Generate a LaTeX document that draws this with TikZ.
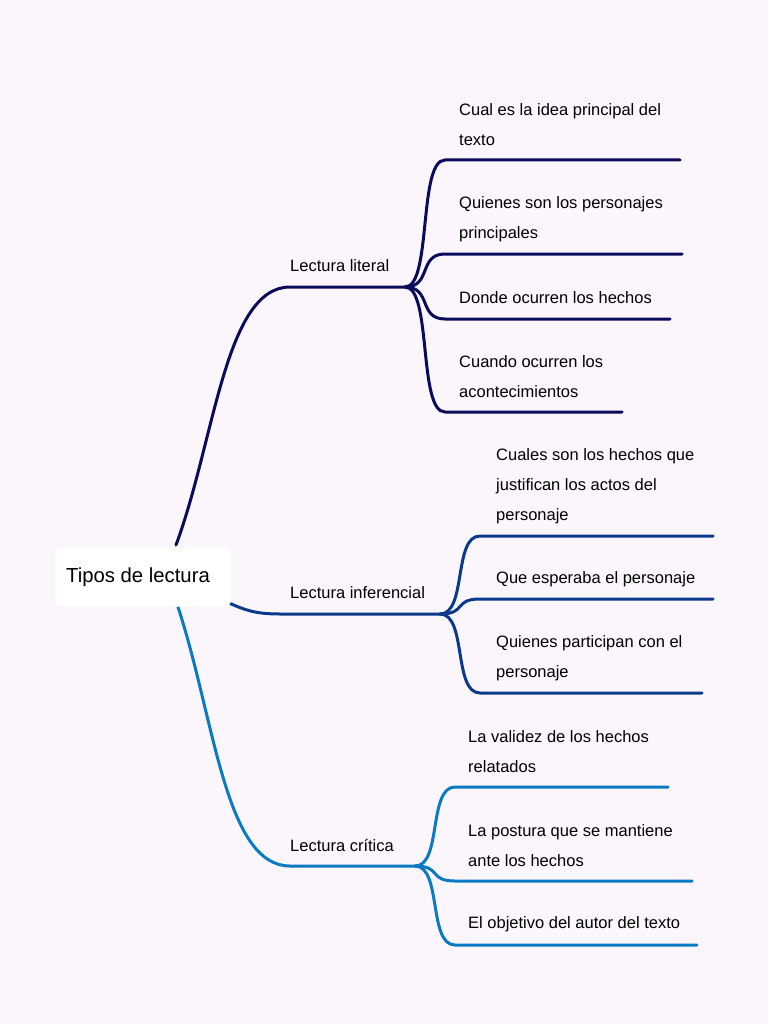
\documentclass[tikz,border=0pt]{standalone}
\usepackage{fontspec}
\setmainfont{Liberation Sans}
\definecolor{bg}{HTML}{FBF5FC}
\definecolor{cA}{HTML}{0B0B5C}
\definecolor{cB}{HTML}{0C3A8A}
\definecolor{cC}{HTML}{0A7BC2}
\tikzset{lbl/.style={anchor=west,font=\fontsize{16.5}{30}\selectfont,align=left,inner sep=0pt},
 br/.style={line width=3pt,line cap=round}}
\begin{document}
\begin{tikzpicture}[x=1pt,y=-1pt]
\fill[bg] (0,0) rectangle (768,1024);
\useasboundingbox (0,0) rectangle (768,1024);
% coordinates
\coordinate (r1) at (176,545); \coordinate (h1) at (290,287); \coordinate (j1) at (405,287);
\coordinate (r2) at (229,603); \coordinate (h2) at (280,614); \coordinate (j2) at (440,614);
\coordinate (r3) at (178,607); \coordinate (h3) at (290,866); \coordinate (j3) at (415,866);
% branch 1
\draw[br,cA] (r1) .. controls (215,440) and (225,287) .. (h1) -- (j1);
\foreach \y/\e in {160/680,254/682,319/670,412/622}
  \draw[br,cA] (j1) .. controls (432,287) and (418,\y) .. (445,\y) -- (\e,\y);
% branch 2
\draw[br,cB] (r2) .. controls (245,610) and (255,614) .. (h2) -- (j2);
\foreach \y/\e in {536/713,599/713,693/702}
  \draw[br,cB] (j2) .. controls (467,614) and (453,\y) .. (480,\y) -- (\e,\y);
% branch 3
\draw[br,cC] (r3) .. controls (215,720) and (225,866) .. (h3) -- (j3);
\foreach \y/\e in {787/668,881/692,945/697}
  \draw[br,cC] (j3) .. controls (442,866) and (428,\y) .. (455,\y) -- (\e,\y);
% root
\node[fill=white,rounded corners=6pt,minimum width=176pt,minimum height=59pt,font=\fontsize{20.3}{24}\selectfont] (root) at (143,577) {\hspace*{-10pt}Tipos de lectura};
% labels
\node[lbl] (l1) at (290,266) {Lectura literal};
\node[lbl] (l2) at (290,593) {Lectura inferencial};
\node[lbl] (l3) at (290,845) {Lectura crítica};
\node[lbl] (a1) at (459,125) {Cual es la idea principal del\\texto};
\node[lbl] (a2) at (459,219) {Quienes son los personajes\\principales};
\node[lbl] (a3) at (459,298) {Donde ocurren los hechos};
\node[lbl] (a4) at (459,377) {Cuando ocurren los\\acontecimientos};
\node[lbl] (b1) at (496,486) {Cuales son los hechos que\\justifican los actos del\\personaje};
\node[lbl] (b2) at (496,579) {Que esperaba el personaje};
\node[lbl] (b3) at (496,658) {Quienes participan con el\\personaje};
\node[lbl] (c1) at (468,752) {La validez de los hechos\\relatados};
\node[lbl] (c2) at (468,846) {La postura que se mantiene\\ante los hechos};
\node[lbl] (c3) at (468,924) {El objetivo del autor del texto};
\end{tikzpicture}
\end{document}
